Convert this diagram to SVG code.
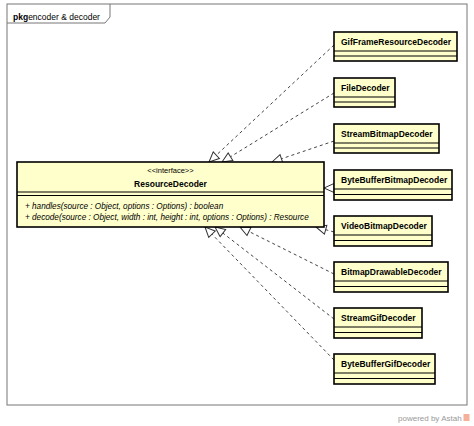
<svg xmlns="http://www.w3.org/2000/svg" width="474" height="426" viewBox="0 0 474 426">
<style>
text{font-family:"Liberation Sans",Arial,sans-serif;font-size:8.5px;fill:#000}
.b{font-weight:bold}
.i{font-style:italic;font-size:8.2px}
.box{fill:#FFFFCC;stroke:#000;stroke-width:1.6}
.sep{stroke:#000;stroke-width:1.2}
.dep{fill:none;stroke:#444;stroke-width:1;stroke-dasharray:3,3}
</style>
<defs>
<marker id="tri" markerUnits="userSpaceOnUse" markerWidth="12" markerHeight="11" refX="10" refY="4.5" orient="auto" viewBox="-1 -1 12 11">
<path d="M0,0 L10,4.5 L0,9 Z" fill="#fff" stroke="#333" stroke-width="1" stroke-dasharray="none"/>
</marker>
</defs>
<rect width="474" height="426" fill="#fff"/>
<g id="frame">
<rect x="7" y="4" width="460" height="401" fill="none" stroke="#777" stroke-width="1"/>
<path d="M7,23 L105,23 L110,17 L110,4" fill="none" stroke="#777" stroke-width="1"/>
<text x="13" y="20"><tspan class="b">pkg</tspan>encoder &amp; decoder</text>
</g>
<g id="connectors">
<path class="dep" d="M334,45 L209,162" marker-end="url(#tri)"/>
<path class="dep" d="M334,93 L222,162" marker-end="url(#tri)"/>
<path class="dep" d="M334,141 L272,162" marker-end="url(#tri)"/>
<path class="dep" d="M334,188 L324,188" marker-end="url(#tri)"/>
<path class="dep" d="M334,232 L316,227" marker-end="url(#tri)"/>
<path class="dep" d="M334,274 L240,227" marker-end="url(#tri)"/>
<path class="dep" d="M334,319 L215,227" marker-end="url(#tri)"/>
<path class="dep" d="M334,360 L205,227" marker-end="url(#tri)"/>
</g>
<g id="ResourceDecoder">
<rect class="box" x="17" y="162" width="307" height="65"/>
<line class="sep" x1="17" y1="192" x2="324" y2="192"/>
<line class="sep" x1="17" y1="195.5" x2="324" y2="195.5"/>
<text x="170.5" y="173" text-anchor="middle" style="font-size:7.5px">&lt;&lt;interface&gt;&gt;</text>
<text class="b" x="170.5" y="187" text-anchor="middle">ResourceDecoder</text>
<text class="i" x="25" y="208.5">+ handles(source : Object, options : Options) : boolean</text>
<text class="i" x="25" y="219.5">+ decode(source : Object, width : int, height : int, options : Options) : Resource</text>
</g>
<g id="GifFrameResourceDecoder">
<rect class="box" x="334" y="32" width="123" height="29"/>
<line class="sep" x1="334" y1="51" x2="457" y2="51"/>
<line class="sep" x1="334" y1="56" x2="457" y2="56"/>
<text class="b" x="341" y="45">GifFrameResourceDecoder</text>
</g>
<g id="FileDecoder">
<rect class="box" x="334" y="78" width="61" height="29"/>
<line class="sep" x1="334" y1="97" x2="395" y2="97"/>
<line class="sep" x1="334" y1="102" x2="395" y2="102"/>
<text class="b" x="341" y="91">FileDecoder</text>
</g>
<g id="StreamBitmapDecoder">
<rect class="box" x="334" y="124" width="105" height="29"/>
<line class="sep" x1="334" y1="143" x2="439" y2="143"/>
<line class="sep" x1="334" y1="148" x2="439" y2="148"/>
<text class="b" x="341" y="137">StreamBitmapDecoder</text>
</g>
<g id="ByteBufferBitmapDecoder">
<rect class="box" x="334" y="170" width="118" height="30"/>
<line class="sep" x1="334" y1="189" x2="452" y2="189"/>
<line class="sep" x1="334" y1="194.5" x2="452" y2="194.5"/>
<text class="b" x="341" y="183">ByteBufferBitmapDecoder</text>
</g>
<g id="VideoBitmapDecoder">
<rect class="box" x="334" y="216" width="98" height="30"/>
<line class="sep" x1="334" y1="235" x2="432" y2="235"/>
<line class="sep" x1="334" y1="240.5" x2="432" y2="240.5"/>
<text class="b" x="341" y="229">VideoBitmapDecoder</text>
</g>
<g id="BitmapDrawableDecoder">
<rect class="box" x="334" y="262" width="114" height="30"/>
<line class="sep" x1="334" y1="281" x2="448" y2="281"/>
<line class="sep" x1="334" y1="286.5" x2="448" y2="286.5"/>
<text class="b" x="341" y="275">BitmapDrawableDecoder</text>
</g>
<g id="StreamGifDecoder">
<rect class="box" x="334" y="308" width="88" height="30"/>
<line class="sep" x1="334" y1="327" x2="422" y2="327"/>
<line class="sep" x1="334" y1="332.5" x2="422" y2="332.5"/>
<text class="b" x="341" y="321">StreamGifDecoder</text>
</g>
<g id="ByteBufferGifDecoder">
<rect class="box" x="334" y="354" width="101" height="30"/>
<line class="sep" x1="334" y1="373" x2="435" y2="373"/>
<line class="sep" x1="334" y1="378.5" x2="435" y2="378.5"/>
<text class="b" x="341" y="367">ByteBufferGifDecoder</text>
</g>
<g id="watermark">
<text x="398" y="421" style="font-size:8px;fill:#999">powered by Astah</text>
<rect x="463.5" y="414" width="6" height="7" fill="#f4b09a"/>
</g>
</svg>
